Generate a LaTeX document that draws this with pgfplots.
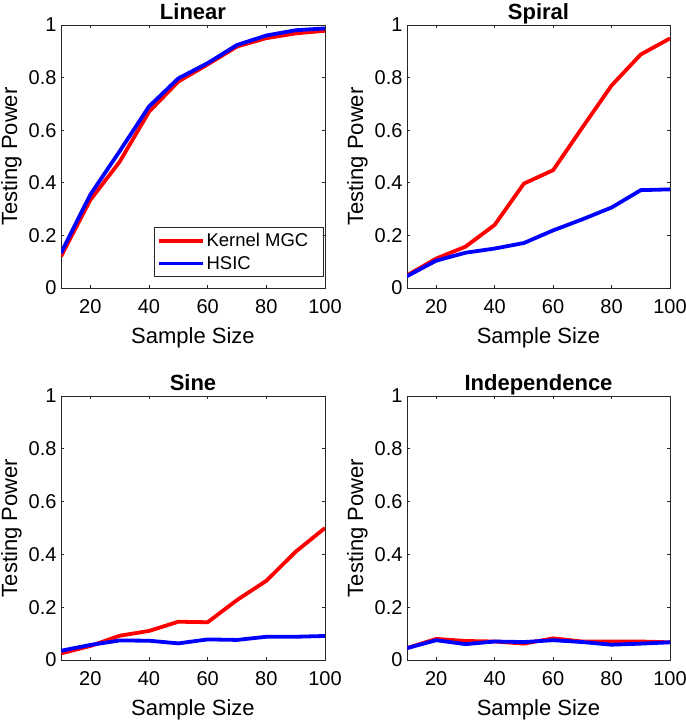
\documentclass[border=0pt]{standalone}
\usepackage{pgfplots}
\pgfplotsset{compat=1.18}
\usepackage{fontspec}
\setmainfont{Liberation Sans}
\definecolor{axgray}{RGB}{38,38,38}
\pgfplotsset{
  every axis/.append style={
    scale only axis,
    xmin=10, xmax=100, ymin=0, ymax=1,
    xtick={20,40,60,80,100},
    ytick={0,0.2,0.4,0.6,0.8,1},
    yticklabels={0,0.2,0.4,0.6,0.8,1},
    xticklabels={20,40,60,80,100},
    tick align=inside,
    major tick length=3pt,
    axis line style={axgray, line width=0.6pt},
    tick style={axgray, line width=0.6pt},
    ticklabel style={font=\fontsize{20}{22}\selectfont, text=black},
    xticklabel style={yshift=-8pt},
    yticklabel style={xshift=-1pt},
    label style={font=\fontsize{22}{24}\selectfont},
    xlabel style={at={(0.5,0)}, anchor=base, yshift=-56pt},
    title style={font=\fontsize{22}{24}\selectfont\bfseries, at={(0.5,1)}, anchor=base, yshift=-1pt},
    xlabel={Sample Size},
    ylabel={Testing Power},
    /pgf/number format/assume math mode=true,
  },
  kmgc/.style={red, line width=3.8pt, line join=round},
  hsic/.style={blue, line width=3.8pt, line join=round},
}
\begin{document}
\begin{tikzpicture}
\useasboundingbox (0pt,0pt) rectangle (685pt,722pt);
% Linear
\begin{axis}[at={(61pt,434pt)}, anchor=south west, width=264pt, height=263pt, title={Linear},
  legend style={at={(0.995,0.042)}, anchor=south east, draw=axgray, line width=0.6pt, font=\fontsize{18.5}{21}\selectfont, inner xsep=2pt, inner ysep=4pt, row sep=4pt},
  legend cell align=left,
  legend image code/.code={\draw[#1] (0pt,0pt) -- (44pt,0pt);}]
\addplot[kmgc] coordinates {(10,0.12) (20,0.335) (30,0.48) (40,0.67) (50,0.785) (60,0.85) (70,0.918) (80,0.95) (90,0.968) (100,0.978)};
\addlegendentry{Kernel MGC\hspace*{11pt}}
\addplot[hsic] coordinates {(10,0.133) (20,0.355) (30,0.52) (40,0.69) (50,0.797) (60,0.855) (70,0.924) (80,0.96) (90,0.98) (100,0.987)};
\addlegendentry{HSIC}
\end{axis}
% Spiral
\begin{axis}[at={(407pt,434pt)}, anchor=south west, width=263pt, height=263pt, title={Spiral}]
\addplot[kmgc] coordinates {(10,0.048) (20,0.112) (30,0.157) (40,0.24) (50,0.397) (60,0.448) (70,0.61) (80,0.77) (90,0.888) (100,0.949)};
\addplot[hsic] coordinates {(10,0.045) (20,0.104) (30,0.134) (40,0.15) (50,0.171) (60,0.219) (70,0.261) (80,0.306) (90,0.372) (100,0.375)};
\end{axis}
% Sine
\begin{axis}[at={(61pt,62pt)}, anchor=south west, width=264pt, height=264pt, title={Sine}]
\addplot[kmgc] coordinates {(10,0.025) (20,0.053) (30,0.092) (40,0.11) (50,0.145) (60,0.143) (70,0.227) (80,0.30) (90,0.41) (100,0.50)};
\addplot[hsic] coordinates {(10,0.035) (20,0.057) (30,0.074) (40,0.073) (50,0.063) (60,0.078) (70,0.076) (80,0.088) (90,0.088) (100,0.091)};
\end{axis}
% Independence
\begin{axis}[at={(407pt,62pt)}, anchor=south west, width=263pt, height=264pt, title={Independence}]
\addplot[kmgc] coordinates {(10,0.045) (20,0.08) (30,0.072) (40,0.07) (50,0.062) (60,0.082) (70,0.07) (80,0.07) (90,0.07) (100,0.067)};
\addplot[hsic] coordinates {(10,0.045) (20,0.075) (30,0.06) (40,0.07) (50,0.068) (60,0.075) (70,0.068) (80,0.058) (90,0.062) (100,0.067)};
\end{axis}
\end{tikzpicture}
\end{document}
